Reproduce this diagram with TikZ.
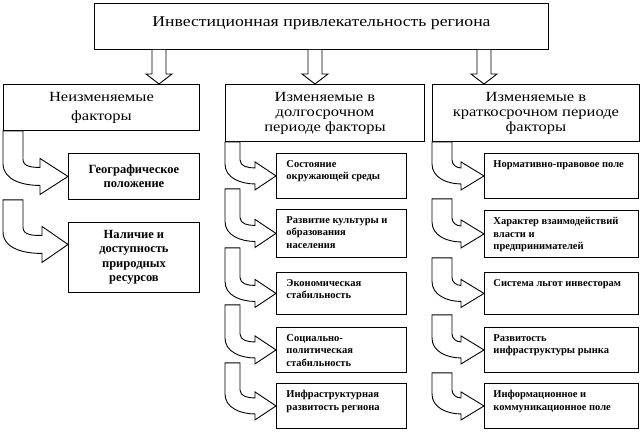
\documentclass[tikz,border=0pt]{standalone}
\usepackage{fontspec}
\setmainfont{Liberation Serif}
\newfontfamily\widefont[FakeStretch=1.18]{Liberation Serif}
\usetikzlibrary{calc}

\newcommand{\downblock}[3]{%
  \draw[blockarrow] let \p1=(#2.south), \p2=(#3.north) in
    ({#1pt-7pt},\y1) -- ({#1pt-7pt},{\y2+10pt}) -- ({#1pt-13pt},{\y2+10pt}) -- (#1pt,\y2)
    -- ({#1pt+13pt},{\y2+10pt}) -- ({#1pt+7pt},{\y2+10pt}) -- ({#1pt+7pt},\y1);}

\newcommand{\bentarrow}[6]{%
  \draw[blockarrow] let \p1=(#1), \p2=(#2) in
    (\p1) -- ({\x1},{\y2+#4pt+4pt}) to[out=-90,in=180] ({\x2-#6pt},{\y2-#4pt})
    -- ({\x2-#6pt},{\y2-#5pt}) -- (\p2) -- ({\x2-#6pt},{\y2+#5pt}) -- ({\x2-#6pt},{\y2+#4pt})
    to[out=180,in=-90] ({\x1+#3pt},{\y2+#4pt+8pt})
    -- ({\x1+#3pt},{\y1}) -- cycle;}

\begin{document}
\begin{tikzpicture}[x=1pt, y=-1pt,
    box/.style={draw, line width=0.9pt, fill=white, anchor=north west, inner sep=0pt},
    blockarrow/.style={draw, line width=0.9pt, fill=white},
    leftsub/.style={box, minimum width=131, align=center, font=\bfseries\fontsize{12.5}{14.5}\selectfont},
    subtext/.style={box, inner xsep=10pt, inner ysep=7pt, font=\bfseries\fontsize{10.5}{12.5}\selectfont}]

    \fill[white] (0,0) rectangle (643,439);
    \useasboundingbox (0,0) rectangle (643,439);

    \node[box, minimum width=454, minimum height=46, text height=0pt, text depth=0pt,
        font=\widefont\fontsize{15}{18}\selectfont] (top) at (94,3) {Инвестиционная привлекательность региона};

    \node[box, minimum width=196, minimum height=46, align=center,
        font=\widefont\fontsize{14}{19}\selectfont] (f1) at (3,84) {Неизменяемые\\факторы};
    \node[box, minimum width=199, minimum height=57, align=center,
        font=\widefont\fontsize{14}{15}\selectfont] (f2) at (225,84) {Изменяемые в\\долгосрочном\\периоде факторы};
    \node[box, minimum width=207, minimum height=57, align=center,
        font=\widefont\fontsize{14}{15}\selectfont] (f3) at (432,84) {Изменяемые в\\краткосрочном периоде\\факторы};

    \downblock{159}{top}{f1}
    \downblock{315}{top}{f2}
    \downblock{484}{top}{f3}

    \node[leftsub, minimum height=46] (l1) at (68,153) {Географическое\\положение};
    \node[leftsub, minimum height=70] (l2) at (68,222) {Наличие и\\доступность\\природных\\ресурсов};

    \node[subtext] (m1) at (276,153) {\parbox[c][31pt][t]{110pt}{Состояние\\окружающей среды}};
    \node[subtext] (m2) at (276,209) {\parbox[c][34pt][t]{110pt}{Развитие культуры и\\образования\\населения}};
    \node[subtext] (m3) at (276,272) {\parbox[c][28pt][t]{110pt}{Экономическая\\стабильность}};
    \node[subtext] (m4) at (276,327) {\parbox[c][31pt][t]{110pt}{Социально-\\политическая\\стабильность}};
    \node[subtext] (m5) at (276,383) {\parbox[c][31pt][t]{110pt}{Инфраструктурная\\развитость региона}};

    \node[subtext, inner xsep=9pt] (r1) at (484,153) {\parbox[c][31pt][t]{136pt}{Нормативно-правовое поле}};
    \node[subtext, inner xsep=9pt] (r2) at (484,210) {\parbox[c][33pt][t]{136pt}{Характер взаимодействий\\власти и\\предпринимателей}};
    \node[subtext, inner xsep=9pt] (r3) at (484,272) {\parbox[c][28pt][t]{136pt}{Система льгот инвесторам}};
    \node[subtext, inner xsep=9pt] (r4) at (484,327) {\parbox[c][31pt][t]{136pt}{Развитость\\инфраструктуры рынка}};
    \node[subtext, inner xsep=9pt] (r5) at (484,383) {\parbox[c][31pt][t]{136pt}{Информационное и\\коммуникационное поле}};

    \coordinate (lt2) at (l1.south -| f1.west);
    \coordinate (lp2) at ($(l2.west)+(0,-13)$);
    \bentarrow{f1.south west}{l1.west}{20}{9}{18}{28}
    \bentarrow{lt2}{lp2}{20}{9}{18}{26}

    \coordinate (mt2) at ($(m1.south -| f2.west)+(0,-10)$);
    \coordinate (mt3) at ($(m2.south -| f2.west)+(0,-10)$);
    \coordinate (mt4) at ($(m3.south -| f2.west)+(0,-10)$);
    \coordinate (mt5) at ($(m4.south -| f2.west)+(0,-10)$);
    \bentarrow{f2.south west}{m1.west}{15}{8}{14}{21}
    \bentarrow{mt2}{m2.west}{15}{8}{14}{21}
    \bentarrow{mt3}{m3.west}{15}{8}{14}{21}
    \bentarrow{mt4}{m4.west}{15}{8}{14}{21}
    \bentarrow{mt5}{m5.west}{15}{8}{14}{21}

    \coordinate (rt2) at (r1.south -| f3.west);
    \coordinate (rt3) at (r2.south -| f3.west);
    \coordinate (rt4) at (r3.south -| f3.west);
    \coordinate (rt5) at (r4.south -| f3.west);
    \bentarrow{f3.south west}{r1.west}{20}{8}{14}{23}
    \bentarrow{rt2}{r2.west}{20}{8}{14}{23}
    \bentarrow{rt3}{r3.west}{20}{8}{14}{23}
    \bentarrow{rt4}{r4.west}{20}{8}{14}{23}
    \bentarrow{rt5}{r5.west}{20}{8}{14}{23}

\end{tikzpicture}
\end{document}
